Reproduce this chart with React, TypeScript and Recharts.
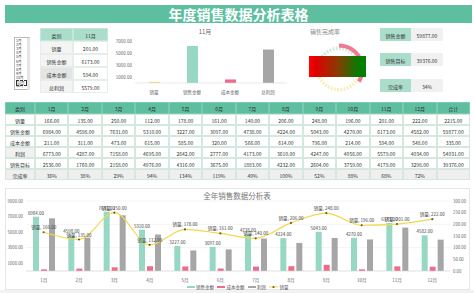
import React from 'react';
import {
  BarChart, Bar, XAxis, YAxis, CartesianGrid, Cell, ComposedChart, Line,
  LabelList, PieChart, Pie, Legend,
} from 'recharts';

const FONT = '"Noto Sans CJK SC", "Noto Sans", sans-serif';

// ---------- data ----------
const months = ['1月', '2月', '3月', '4月', '5月', '6月', '7月', '8月', '9月', '10月', '11月', '12月'];
const volume = [166, 135, 250, 112, 178, 161, 140, 206, 248, 196, 201, 222];
const salesAmount = [6984, 4598, 7631, 5310, 3227, 3097, 4738, 4224, 5043, 4270, 6173, 4582];
const costAmount = [211, 311, 473, 615, 585, 320, 566, 614, 796, 214, 594, 548];
const profit = [6773, 4287, 7158, 4695, 2642, 2777, 4173, 3610, 4247, 4056, 5579, 4034];
const salesTarget = [2536, 1760, 2158, 4976, 4316, 3675, 1883, 4232, 2604, 3759, 4179, 3298];
const completionRate = [36, 38, 29, 94, 134, 119, 40, 100, 52, 88, 68, 72];
const rowLabels = ['销量', '销售金额', '成本金额', '利润', '销售目标', '完成率'];
const rowTotals = ['2215.00', '59877.00', '335.00', '54031.00', '39376.00', ''];

const selectedMonth = '11月';
const monthCategories = ['销量', '销售金额', '成本金额', '总利润'];
const monthValues = [201, 6173, 594, 5579];

const kpiLabels = ['销售金额', '销售目标', '完成率'];
const kpiValues = ['59877.00', '39376.00', '34%'];
const gaugeValue = 34;

const smallTicks = [0, 1000, 2000, 3000, 4000, 5000, 6000, 7000];
const leftTicks = [0, 1000, 2000, 3000, 4000, 5000, 6000, 7000, 8000, 9000];
const rightTicks = [0, 50, 100, 150, 200, 250, 300];

const seriesNames = ['销售金额', '成本金额', '利润', '销量'];

// ---------- styles ----------
const TEAL = '#5dbf9f';
const LIGHT_TEAL = '#aaddca';
const BAR_TEAL = '#96d8c4';
const PINK = '#f06a8c';
const GRAY = '#a6a6a6';
const YELLOW = '#f3d84c';
const monthColors = ['#f6e27a', BAR_TEAL, PINK, GRAY];
const seriesColors = [BAR_TEAL, PINK, GRAY, YELLOW];

const chartData = months.map((m, i) => ({
  m,
  sales: salesAmount[i],
  cost: costAmount[i],
  profit: profit[i],
  vol: volume[i],
}));
const monthData = monthCategories.map((c, i) => ({ c, v: monthValues[i] }));
const tableRows = [volume, salesAmount, costAmount, profit, salesTarget];

const abs = (l: number, t: number, w: number, h: number): React.CSSProperties => ({
  position: 'absolute', left: l, top: t, width: w, height: h,
});

function Cell2({ l, t, w, h, text, bg, color = '#333', fs = 5, bold = false, border = '#d4e8df' }: any) {
  return (
    <div style={{
      ...abs(l, t, w, h), background: bg, color, fontSize: fs, lineHeight: `${h}px`,
      textAlign: 'center', boxSizing: 'border-box', border: `0.5px solid ${border}`,
      fontWeight: bold ? 700 : 400, whiteSpace: 'nowrap', overflow: 'hidden',
    }}>{text}</div>
  );
}

function MainTable() {
  const left = 5;
  const top = 102;
  const c0 = 30;
  const cw = (470 - left - c0) / 13;
  const hh = 12;
  const rh = 11;
  const cells: React.ReactNode[] = [];
  const header = ['类别', ...months, '合计'];
  header.forEach((h, j) => {
    const l = j === 0 ? left : left + c0 + (j - 1) * cw;
    const w = j === 0 ? c0 : cw;
    cells.push(<Cell2 key={`h${j}`} l={l} t={top} w={w} h={hh} text={h} bg={TEAL} color="#2d2d2d" border="#7ccbb0" />);
  });
  rowLabels.forEach((lab, r) => {
    const t = top + hh + r * rh;
    const rowBg = r === 5 ? '#efefef' : '#ffffff';
    cells.push(<Cell2 key={`l${r}`} l={left} t={t} w={c0} h={rh} text={lab} bg={r === 3 ? '#f1f1f1' : rowBg} />);
    months.forEach((_, i) => {
      const text = r < 5 ? tableRows[r][i].toFixed(2) : `${completionRate[i]}%`;
      cells.push(<Cell2 key={`c${r}-${i}`} l={left + c0 + i * cw} t={t} w={cw} h={rh} text={text} bg={rowBg} />);
    });
    cells.push(<Cell2 key={`t${r}`} l={left + c0 + 12 * cw} t={t} w={cw} h={rh} text={rowTotals[r]} bg={rowBg} />);
  });
  return <>{cells}</>;
}

function SmallTable() {
  const rows = monthCategories.map((c, i) => [c, monthValues[i].toFixed(2)]);
  return (
    <>
      <Cell2 l={40} t={28} w={33} h={13} text="类别" bg={LIGHT_TEAL} border="#c4e7da" />
      <Cell2 l={73} t={28} w={35} h={13} text={selectedMonth} bg={LIGHT_TEAL} border="#c4e7da" />
      {rows.map((r, i) => (
        <React.Fragment key={i}>
          <Cell2 l={40} t={41 + i * 13} w={33} h={13} text={r[0]} bg={i === 2 ? '#e4e4e4' : '#f4f4f4'} border="#e6eeea" />
          <Cell2 l={73} t={41 + i * 13} w={35} h={13} text={r[1]} bg="#ffffff" border="#e6eeea" />
        </React.Fragment>
      ))}
    </>
  );
}

function ListBox() {
  return (
    <div style={{ ...abs(14, 37, 16, 53), border: '0.5px solid #bbb', background: '#fff', boxSizing: 'border-box' }}>
      {months.map((m, i) => (
        <div key={m} style={{
          position: 'absolute', left: 1, top: 1 + i * 4.1, fontSize: 3.6, lineHeight: '4px', color: '#444',
          border: m === selectedMonth ? '0.5px dashed #333' : 'none', paddingRight: 1,
        }}>{m}</div>
      ))}
      <div style={{ ...abs(12, 0, 3, 52), background: '#e4e4e4' }} />
    </div>
  );
}

function Kpis() {
  const tops = [28, 53, 79];
  return (
    <>
      {kpiLabels.map((k, i) => (
        <React.Fragment key={k}>
          <Cell2 l={380} t={tops[i]} w={31} h={13} text={k} bg={LIGHT_TEAL} border={LIGHT_TEAL} />
          <Cell2 l={411} t={tops[i]} w={32} h={13} text={kpiValues[i]} bg="#f1f1f1" border="#f1f1f1" />
        </React.Fragment>
      ))}
    </>
  );
}

function Gauge() {
  const ringCount = 40;
  const ring = Array.from({ length: ringCount }, (_, i) => ({ v: 1, i }));
  const arc = [{ v: gaugeValue }, { v: 100 - gaugeValue }];
  return (
    <>
      <div style={{ ...abs(290, 27, 70, 10), fontSize: 6, color: '#888', textAlign: 'center', lineHeight: '10px' }}>销售完成率</div>
      <div style={abs(299, 39, 80, 60)}>
        <PieChart width={80} height={60} margin={{ top: 0, right: 0, bottom: 0, left: 0 }}>
          <Pie data={ring} dataKey="v" cx={40} cy={30} innerRadius={19} outerRadius={22.5}
            startAngle={90} endAngle={-270} paddingAngle={4} stroke="none" isAnimationActive={false}>
            {ring.map((d) => (
              <Cell key={d.i} fill={d.i >= 12 && d.i <= 27 ? '#f7efb6' : '#cdebd9'} />
            ))}
          </Pie>
          <Pie data={arc} dataKey="v" cx={40} cy={30} innerRadius={21.5} outerRadius={25.5}
            startAngle={90} endAngle={-270} stroke="none" isAnimationActive={false}>
            <Cell fill="#f07a92" />
            <Cell fill="transparent" />
          </Pie>
        </PieChart>
      </div>
      <div style={{ ...abs(309, 56, 57, 21), background: 'linear-gradient(to right, #ff0000 0%, #e00000 12%, #8a3a00 50%, #0b7a00 85%, #008000 100%)' }} />
    </>
  );
}

function SmallChart() {
  return (
    <>
      <div style={{ ...abs(185, 27, 40, 10), fontSize: 6, color: '#666', textAlign: 'center', lineHeight: '10px' }}>{selectedMonth}</div>
      <div style={abs(100, 25, 195, 70)}>
        <BarChart width={195} height={70} data={monthData} margin={{ top: 16, right: 8, left: 0, bottom: 0 }}>
          <XAxis dataKey="c" tick={{ fontSize: 4.5, fill: '#666' }} tickLine={false} axisLine={{ stroke: '#d9d9d9', strokeWidth: 0.6 }} height={12} interval={0} />
          <YAxis domain={[0, 7000]} ticks={smallTicks} tickFormatter={(v: number) => v.toFixed(2)} width={35}
            axisLine={false} tickLine={false} tickSize={1} tickMargin={2} tick={{ fontSize: 4.5, fill: '#666' }} />
          <Bar dataKey="v" barSize={11} isAnimationActive={false}>
            {monthData.map((d, i) => <Cell key={d.c} fill={monthColors[i]} />)}
          </Bar>
        </BarChart>
      </div>
    </>
  );
}

function LegendContent() {
  return (
    <div style={{ display: 'flex', justifyContent: 'center', alignItems: 'center', fontSize: 4.5, color: '#555', gap: 3, height: 11, fontFamily: FONT }}>
      {seriesNames.map((n, i) => (
        <span key={n} style={{ display: 'flex', alignItems: 'center', gap: 1.5 }}>
          {i < 3 ? (
            <span style={{ display: 'inline-block', width: 8, height: 2, background: seriesColors[i] }} />
          ) : (
            <svg width={9} height={4}>
              <line x1={0} y1={2} x2={9} y2={2} stroke={YELLOW} strokeWidth={1} />
              <circle cx={4.5} cy={2} r={1.1} fill="#6d5e20" />
            </svg>
          )}
          {n}
        </span>
      ))}
    </div>
  );
}

function BottomChart() {
  const lab = { fontSize: 4.5, fill: '#444' };
  return (
    <>
      <div style={{ ...abs(5, 188, 465, 102), border: '0.5px solid #e6e6e6', boxSizing: 'border-box', background: '#fff' }} />
      <div style={{ ...abs(137, 190, 200, 12), fontSize: 7.5, color: '#777', textAlign: 'center', lineHeight: '12px' }}>全年销售数据分析表</div>
      <div style={abs(5, 188, 465, 104)}>
        <ComposedChart width={465} height={104} data={chartData} margin={{ top: 13, right: 0, left: 0, bottom: 0 }} barGap={2}>
          <CartesianGrid vertical={false} stroke="#ececec" strokeWidth={0.6} yAxisId="l" />
          <XAxis dataKey="m" tick={{ fontSize: 4.5, fill: '#666' }} tickLine={false}
            axisLine={{ stroke: '#d9d9d9', strokeWidth: 0.6 }} height={10} interval={0} />
          <YAxis yAxisId="l" domain={[0, 9000]} ticks={leftTicks} tickFormatter={(v: number) => v.toFixed(2)} width={21}
            axisLine={false} tickLine={false} tickSize={1} tickMargin={2} tick={{ fontSize: 4.3, fill: '#666' }} />
          <YAxis yAxisId="r" orientation="right" domain={[0, 300]} ticks={rightTicks} tickFormatter={(v: number) => v.toFixed(2)} width={20}
            axisLine={false} tickLine={false} tickSize={1} tickMargin={2} tick={{ fontSize: 4.3, fill: '#666' }} />
          <Bar yAxisId="l" dataKey="sales" name={seriesNames[0]} fill={BAR_TEAL} barSize={6} isAnimationActive={false}>
            <LabelList dataKey="sales" position="top" offset={2} formatter={(v: any) => Number(v).toFixed(2)} style={lab} />
          </Bar>
          <Bar yAxisId="l" dataKey="cost" name={seriesNames[1]} fill={PINK} barSize={6} isAnimationActive={false} />
          <Bar yAxisId="l" dataKey="profit" name={seriesNames[2]} fill={GRAY} barSize={6} isAnimationActive={false} />
          <Line yAxisId="r" type="monotone" dataKey="vol" name={seriesNames[3]} stroke={YELLOW} strokeWidth={1.2}
            dot={{ r: 1.1, fill: '#6d5e20', stroke: 'none' }} isAnimationActive={false}>
            <LabelList dataKey="vol" position="top" offset={3} formatter={(v: any) => `销量, ${Number(v).toFixed(2)}`} style={lab} />
          </Line>
          <Legend verticalAlign="bottom" height={11} content={() => <LegendContent />} />
        </ComposedChart>
      </div>
    </>
  );
}

export default function App() {
  return (
    <div style={{ position: 'absolute', left: 0, top: 0, width: 474, height: 293, background: '#fff', fontFamily: FONT, overflow: 'hidden' }}>
      <div style={{ ...abs(5, 5, 467, 18), background: TEAL, color: '#fff', fontSize: 14, fontWeight: 700, textAlign: 'center', lineHeight: '18px' }}>
        年度销售数据分析表格
      </div>
      <ListBox />
      <SmallTable />
      <SmallChart />
      <Gauge />
      <Kpis />
      <MainTable />
      <BottomChart />
      <div style={{ ...abs(0, 290, 474, 3), background: '#f2f2f2' }} />
    </div>
  );
}
